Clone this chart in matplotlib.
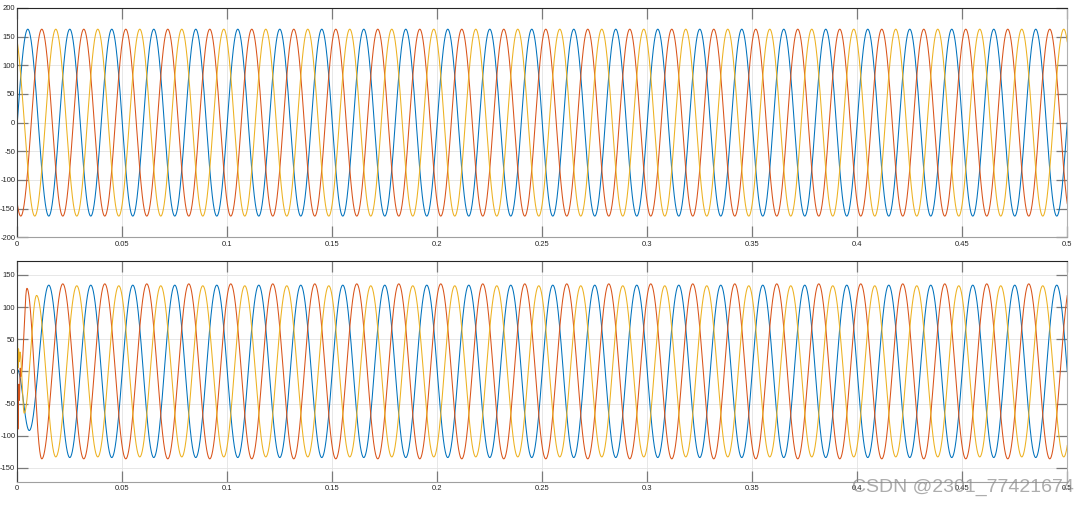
import numpy as np
import matplotlib
matplotlib.use("Agg")
import matplotlib.pyplot as plt

# colours of the three phases (MATLAB default order)
phase_colors = ['#0072BD', '#D95319', '#EDB120']

# top panel: clean three-phase source
freq = 50.0
t_end = 0.5
top_amp = [163, 163, 163]
top_phase_deg = [0, -120, 120]

# bottom panel: steady state after the start-up
bot_amp = [134, 136, 133]
bot_phase_deg = [180, 60, -60]

# bottom panel start-up points (time s, value)
blue_start_t = [0.0, 0.0057, 0.015]
blue_start_v = [3, -92, 134]
red_start_t = [0.0, 0.0003, 0.0007, 0.0010, 0.0014, 0.0017, 0.0046, 0.01167]
red_start_v = [-10, -90, -20, -45, 5, -8, 129, -136]
yellow_start_t = [0.0, 0.0003, 0.0006, 0.0010, 0.0013, 0.0033, 0.0092, 0.01833]
yellow_start_v = [75, 5, 35, 15, 30, -65, 118, -133]

x_ticks = [0, 0.05, 0.1, 0.15, 0.2, 0.25, 0.3, 0.35, 0.4, 0.45, 0.5]
x_tick_labels = ['0', '0.05', '0.1', '0.15', '0.2', '0.25', '0.3', '0.35', '0.4', '0.45', '0.5']
top_yticks = [-200, -150, -100, -50, 0, 50, 100, 150, 200]
bot_yticks = [-150, -100, -50, 0, 50, 100, 150]

t = np.linspace(0, t_end, 25001)
w = 2 * np.pi * freq


def eased(tk, vk, tt):
    # half-cosine shape between consecutive points
    out = np.empty_like(tt)
    for i in range(len(tk) - 1):
        m = (tt >= tk[i]) & (tt <= tk[i + 1])
        s = (tt[m] - tk[i]) / (tk[i + 1] - tk[i])
        out[m] = vk[i] + (vk[i + 1] - vk[i]) * (1 - np.cos(np.pi * s)) / 2
    return out


def bottom_wave(k, tk, vk):
    y = bot_amp[k] * np.sin(w * t + np.radians(bot_phase_deg[k]))
    m = t <= tk[-1]
    y[m] = eased(tk, vk, t[m])
    return y


fig = plt.figure(figsize=(10.8, 5.08), dpi=100)
ax1 = fig.add_axes([0.0160, 0.5329, 0.9722, 0.4514])
ax2 = fig.add_axes([0.0160, 0.0512, 0.9722, 0.4356])

for k in range(3):
    y = top_amp[k] * np.sin(w * t + np.radians(top_phase_deg[k]))
    ax1.plot(t, y, color=phase_colors[k], lw=0.75)

starts = [(blue_start_t, blue_start_v), (red_start_t, red_start_v), (yellow_start_t, yellow_start_v)]
for k in range(3):
    ax2.plot(t, bottom_wave(k, *starts[k]), color=phase_colors[k], lw=0.75)

for ax, yt, yl in [(ax1, top_yticks, (-200, 200)), (ax2, bot_yticks, (-172, 172))]:
    ax.set_xlim(0, t_end)
    ax.set_ylim(*yl)
    ax.set_xticks(x_ticks)
    ax.set_xticklabels(x_tick_labels)
    ax.set_yticks(yt)
    ax.set_yticklabels([str(v) for v in yt])
    ax.grid(True, color='#e3e3e3', lw=0.6)
    ax.set_axisbelow(True)
    ax.tick_params(direction='in', length=8, width=0.9, color='#7a7a7a',
                   labelsize=5.5, labelcolor='#262626', pad=1.5,
                   top=True, right=True)
    ax.tick_params(axis='x', pad=2.5)
    for tl in ax.get_xticklabels() + ax.get_yticklabels():
        tl.set_family('Liberation Sans')
    ax.spines['top'].set_color('#262626')
    ax.spines['left'].set_color('#404040')
    ax.spines['right'].set_color('#b0b0b0')
    ax.spines['bottom'].set_color('#a0a0a0')
    for s in ax.spines.values():
        s.set_linewidth(0.8)

# watermark, sits over the last x tick labels as in the source image
fig.text(0.789, 0.040, 'CSDN @2301_77421674', fontsize=14, color='#8a8a8a',
         alpha=0.7, family='Liberation Sans', va='center', ha='left')

fig.savefig('out.png', dpi=100)
